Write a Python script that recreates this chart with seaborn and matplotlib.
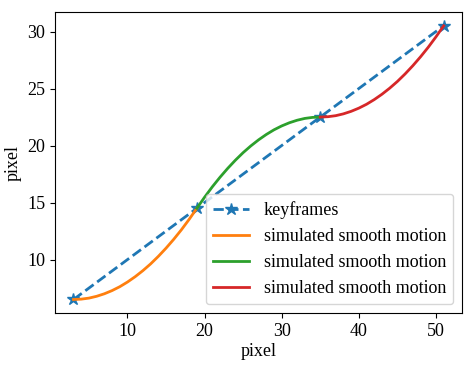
import matplotlib
matplotlib.use("Agg")
import matplotlib.pyplot as plt
import seaborn as sns

plt.rcParams['font.family'] = ['Liberation Serif', 'DejaVu Serif']
plt.rcParams['font.size'] = 13

# keyframes
key_x = [3, 19, 35, 51]
key_y = [6.5, 14.5, 22.5, 30.5]

# smooth motion segments
seg1_x = list(range(3, 20))
seg1_y = [6.5, 6.53, 6.62, 6.78, 7.0, 7.28, 7.62, 8.03, 8.5, 9.03, 9.62,
          10.28, 11.0, 11.78, 12.62, 13.53, 14.5]
seg2_x = list(range(19, 36))
seg2_y = [14.5, 15.47, 16.38, 17.22, 18.0, 18.72, 19.38, 19.97, 20.5, 20.97,
          21.38, 21.72, 22.0, 22.22, 22.38, 22.47, 22.5]
seg3_x = list(range(35, 52))
seg3_y = [22.5, 22.53, 22.62, 22.78, 23.0, 23.28, 23.62, 24.03, 24.5, 25.03,
          25.62, 26.28, 27.0, 27.78, 28.62, 29.53, 30.5]

fig, ax = plt.subplots(figsize=(4.74, 3.68), dpi=100)

sns.lineplot(x=key_x, y=key_y, ax=ax, sort=False, color='C0', linestyle='--',
             linewidth=2, marker='*', markersize=9, markeredgecolor='C0',
             markeredgewidth=1, label='keyframes')
sns.lineplot(x=seg1_x, y=seg1_y, ax=ax, sort=False, color='C1', linewidth=2,
             label='simulated smooth motion')
sns.lineplot(x=seg2_x, y=seg2_y, ax=ax, sort=False, color='C2', linewidth=2,
             label='simulated smooth motion')
sns.lineplot(x=seg3_x, y=seg3_y, ax=ax, sort=False, color='C3', linewidth=2,
             label='simulated smooth motion')

ax.set_xticks([10, 20, 30, 40, 50])
ax.set_yticks([10, 15, 20, 25, 30])
ax.set_xlabel('pixel', labelpad=2)
ax.set_ylabel('pixel')
ax.legend(loc='lower right')

plt.subplots_adjust(left=0.116, right=0.975, top=0.967, bottom=0.149)
plt.savefig('out.png')
